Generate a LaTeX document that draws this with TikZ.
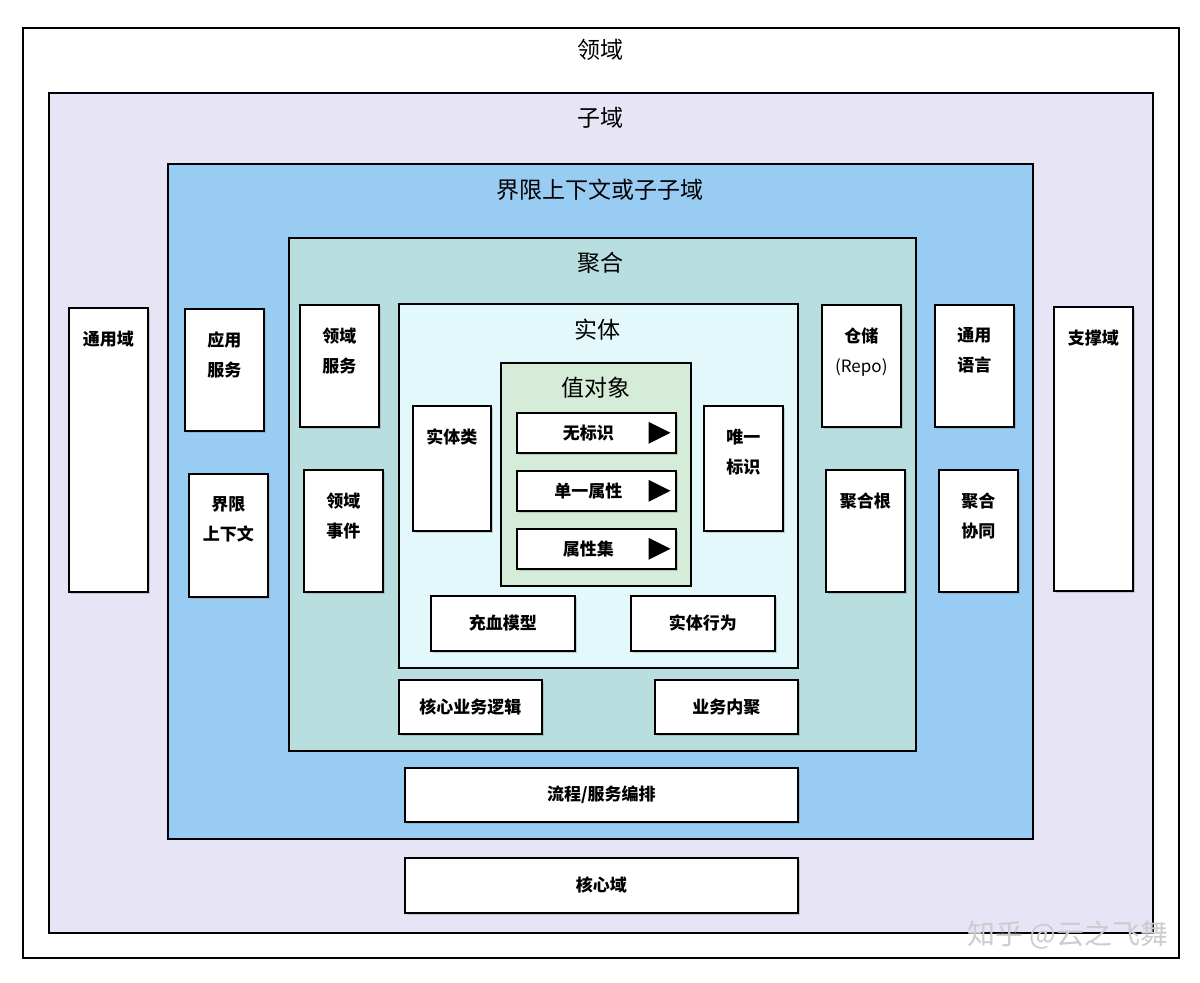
\documentclass[tikz,border=0pt]{standalone}
\usepackage{fontspec}
\setmainfont{Noto Sans CJK SC}
\usetikzlibrary{shadows,calc}
\definecolor{lav}{HTML}{E6E4F5}
\definecolor{bc}{HTML}{99CCF2}
\definecolor{ag}{HTML}{B9DEE0}
\definecolor{en}{HTML}{E2F8FA}
\definecolor{vo}{HTML}{D5EDD8}
\tikzset{
 frame/.style={draw=black,line width=2pt,inner sep=0pt,anchor=north west},
 wbox/.style={frame,fill=white,line width=1.6pt,drop shadow={shadow xshift=2pt,shadow yshift=-2pt,opacity=0.35}},
 ttl/.style={font=\fontsize{23}{27}\selectfont},
 lbl/.style={font=\fontsize{17}{30}\selectfont\bfseries,align=center,anchor=north},
 slbl/.style={font=\fontsize{17}{21}\selectfont\bfseries}
}
\newcommand{\bx}[7]{%
 \node[#2,minimum width={(#5-#3)*1pt},minimum height={(#6-#4)*1pt}] (#1) at (#3,#4) {};
 \node[lbl] (#1t) at ($(#1.north)+(0,20)$) {#7};}
\begin{document}
\begin{tikzpicture}[x=1pt,y=-1pt]
\useasboundingbox (0,0) rectangle (1200,983);
\node[frame,fill=white,minimum width=1156pt,minimum height=930pt] (dom) at (22,27) {};
\node[ttl] (domt) at (600,50) {领域};
\node[frame,fill=lav,minimum width=1104pt,minimum height=840pt] (sub) at (48,92) {};
\node[ttl] (subt) at (600,118) {子域};
\node[frame,fill=bc,minimum width=865pt,minimum height=675pt] (bc) at (167,163) {};
\node[ttl] (bct) at (600,190) {界限上下文或子子域};
\node[frame,fill=ag,minimum width=627pt,minimum height=513pt] (ag) at (288,237) {};
\node[ttl] (agt) at (600,263) {聚合};
\node[frame,fill=en,minimum width=399pt,minimum height=364pt] (en) at (398,303) {};
\node[ttl] (ent) at (597,330) {实体};
\node[frame,fill=vo,minimum width=190pt,minimum height=223pt] (vo) at (500,362) {};
\node[ttl] (vot) at (596,388) {值对象};

\bx{ty}{wbox}{68}{307}{147}{591}{通用域}
\bx{zc}{wbox}{1053}{306}{1132}{590}{支撑域}
\bx{yy}{wbox}{184}{308}{263}{430}{应用\\服务}
\bx{jx}{wbox}{188}{473}{267}{596}{界限\\上下文}
\bx{lf}{wbox}{299}{304}{378}{426}{领域\\服务}
\bx{ls}{wbox}{303}{469}{382}{591}{领域\\事件}
\bx{cc}{wbox}{821}{304}{900}{426}{仓储\\\mdseries(Repo)}
\bx{jh}{wbox}{825}{469}{904}{591}{聚合根}
\bx{yu}{wbox}{934}{304}{1013}{426}{通用\\语言}
\bx{xt}{wbox}{938}{469}{1017}{591}{聚合\\协同}
\bx{stl}{wbox}{412}{405}{490}{530}{实体类}
\bx{wy}{wbox}{703}{405}{782}{530}{唯一\\标识}

\foreach \n/\y/\t in {a/412/无标识,b/470/单一属性,c/528/属性集}{
 \node[wbox,minimum width=159pt,minimum height=40pt] (v\n) at (516,\y) {};
 \node[slbl] (v\n t) at ($(v\n.center)+(-8,0)$) {\t};
 \fill ($(v\n.east)+(-28,-11)$) -- ($(v\n.east)+(-6,0)$) -- ($(v\n.east)+(-28,11)$) -- cycle;
}
\foreach \n/\xa/\ya/\xb/\yb/\t in {cx/430/595/574/650/充血模型,st/630/595/774/650/实体行为,hx/398/679/541/733/核心业务逻辑,nj/654/679/797/733/业务内聚,lc/404/767/797/821/{流程/服务编排},hy/404/857/797/912/核心域}{
 \node[wbox,minimum width={(\xb-\xa)*1pt},minimum height={(\yb-\ya)*1pt}] (\n) at (\xa,\ya) {};
 \node[slbl] (\n t) at (\n.center) {\t};
}
\node[text=gray!40,font=\fontsize{28}{32}\selectfont,anchor=east] (wm) at (1172,935) {知乎 @云之飞舞};
\end{tikzpicture}
\end{document}
